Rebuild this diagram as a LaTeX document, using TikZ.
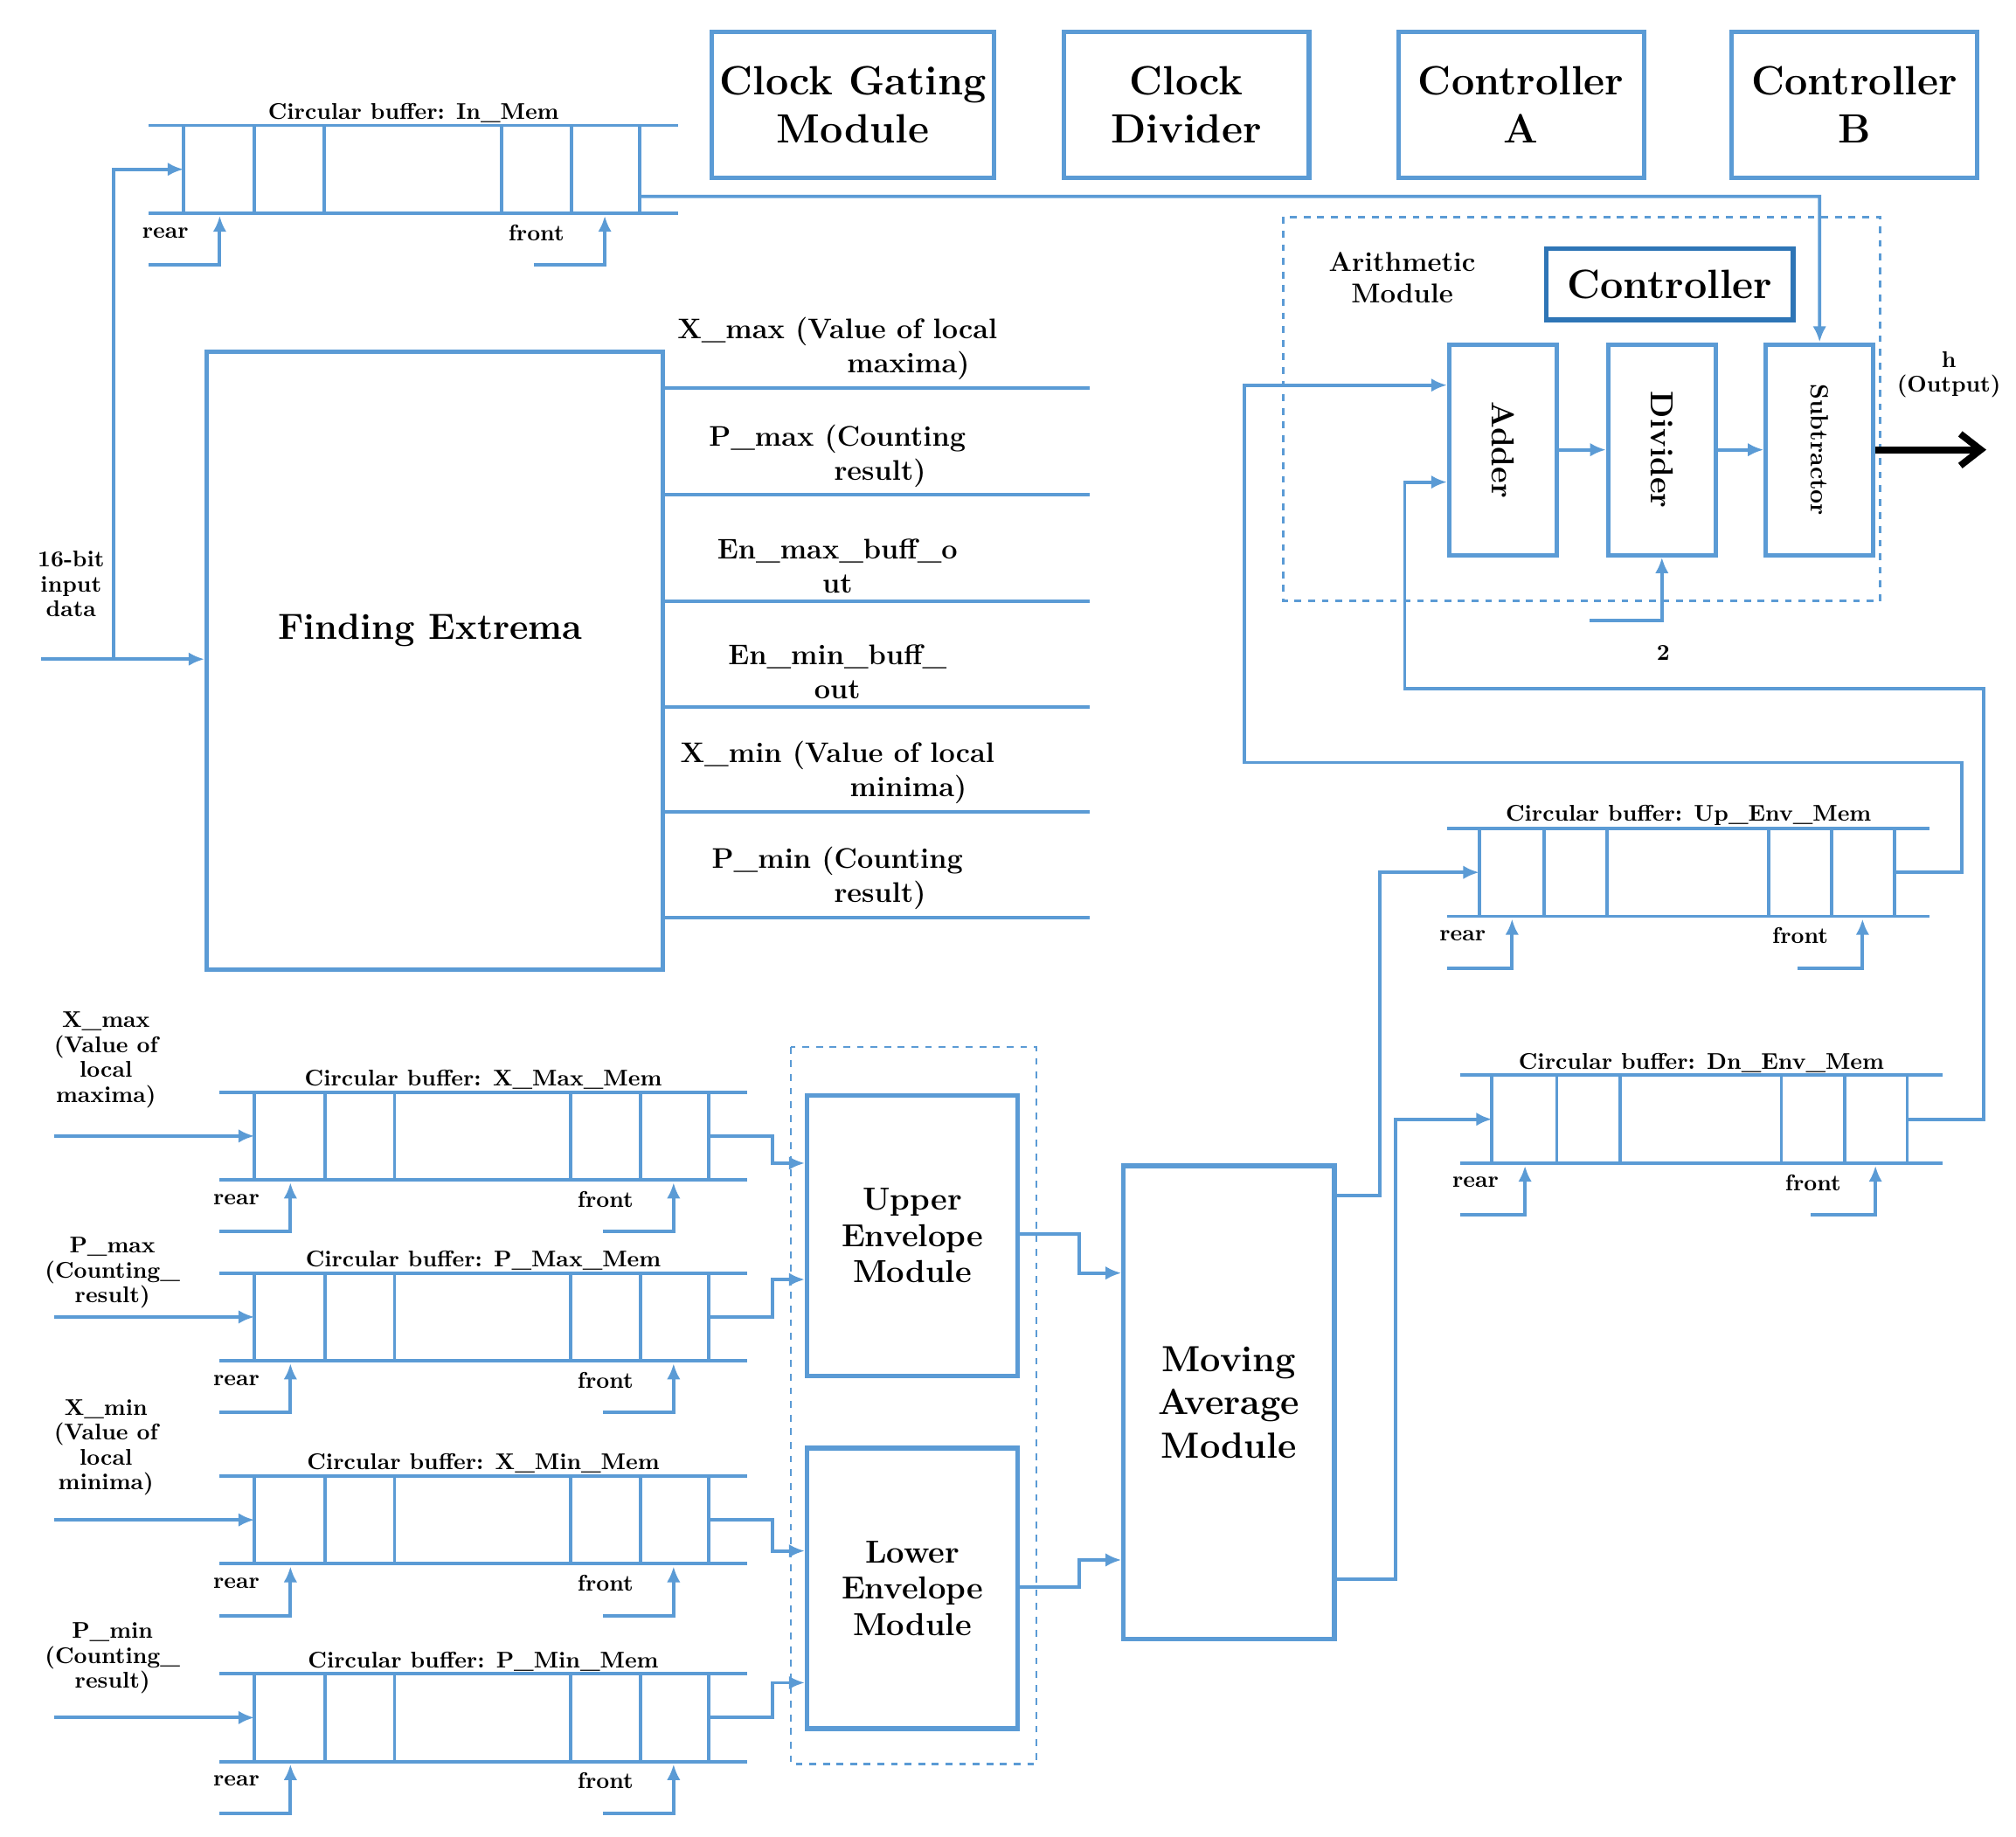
\documentclass[tikz,border=0pt]{standalone}
\usetikzlibrary{arrows.meta}
\definecolor{bblue}{RGB}{91,155,213}
\definecolor{dblue}{RGB}{46,117,182}
\tikzset{
  bl/.style={draw=bblue,line width=1.5pt},
  ar/.style={bl,-{Latex[length=7pt,width=6pt]}},
  box/.style={bl,line width=2pt},
  small/.style={font=\fontsize{10}{11}\selectfont\bfseries,inner sep=1pt,align=center},
  mid/.style={font=\fontsize{14}{16}\selectfont\bfseries,align=center},
  big/.style={font=\fontsize{18}{21}\selectfont\bfseries,align=center},
}
% name, x, y, xscale, title
\newcommand{\cbuf}[5]{%
\begin{scope}[shift={(#2,#3)},xscale=#4]
  \draw[bl] (0,0) -- (410,0) (0,68) -- (410,68);
  \foreach \v in {27,82,136,273,327,380} \draw[bl] (\v,0) -- (\v,68);
  \node[small,above] (#1-t) at (205,0) {#5};
  \coordinate (#1-in) at (27,34);
  \coordinate (#1-out) at (380,34);
  \node[small] (#1-r) at (13,83) {rear};
  \node[small] (#1-f) at (300,83) {front};
  \draw[ar] (0,108) -- (55,108) -- (55,70);
  \draw[ar] (298,108) -- (353,108) -- (353,70);
\end{scope}}
\begin{document}
\begin{tikzpicture}[x=0.02cm,y=-0.02cm]
\useasboundingbox (0,0) rectangle (1560,1421);

% top modules
\node[box,big,minimum width=190*0.02cm,minimum height=113*0.02cm] (cg) at (660,81) {Clock Gating\\Module};
\node[box,big,minimum width=190*0.02cm,minimum height=113*0.02cm] (cd) at (918,81) {Clock\\Divider};
\node[box,big,minimum width=190*0.02cm,minimum height=113*0.02cm] (ca) at (1177,81) {Controller\\A};
\node[box,big,minimum width=190*0.02cm,minimum height=113*0.02cm] (cb) at (1435,81) {Controller\\B};

% input buffer
\cbuf{inm}{115}{97}{1}{Circular buffer: In\_Mem}

% arithmetic module
\draw[bl,dashed,line width=1pt] (993,168) rectangle (1455,465);
\node[mid,font=\fontsize{12}{14}\selectfont\bfseries] (amt) at (1085,215) {Arithmetic\\Module};
\node[draw=dblue,line width=2pt,big,minimum width=191*0.02cm,minimum height=55*0.02cm] (ctl) at (1292,220) {Controller};
\node[box,minimum width=83*0.02cm,minimum height=163*0.02cm] (add) at (1163,348) {};
\node[mid,rotate=-90] at (add) {Adder};
\node[box,minimum width=83*0.02cm,minimum height=163*0.02cm] (div) at (1286,348) {};
\node[mid,rotate=-90] at (div) {Divider};
\node[box,minimum width=83*0.02cm,minimum height=163*0.02cm] (sub) at (1408,348) {};
\node[small,font=\fontsize{11}{12}\selectfont\bfseries,rotate=-90] at (sub) {Subtractor};
\draw[ar] (add.east) -- (div.west);
\draw[ar] (div.east) -- (sub.west);
\coordinate (hout) at (1537,348);
\draw[line width=3pt,-{Straight Barb[length=9pt,width=14pt]}] (sub.east) -- (hout);
\node[small] (hl) at (1508,290) {h\\(Output)};
\coordinate (two) at (1230,480);
\draw[ar] (two) -- (1286,480) -- (div.south);
\node[small] (twol) at (1287,505) {2};
\draw[ar] ([yshift=-0.42cm]inm-out) -- (sub.north |- 0,152) -- (sub.north);

% finding extrema
\node[box,minimum width=353*0.02cm,minimum height=478*0.02cm] (fe) at (336.5,511) {};
\node[mid,font=\fontsize{16}{18}\selectfont\bfseries] (fet) at (333,488) {Finding Extrema};
\foreach \yy/\txt in {300/{X\_max (Value of local\\\hspace*{5em}maxima)},
  383/{P\_max (Counting\\\hspace*{3em}result)},
  465/{En\_max\_buff\_o\\ut},
  547/{En\_min\_buff\_\\out},
  628/{X\_min (Value of local\\\hspace*{5em}minima)},
  710/{P\_min (Counting\\\hspace*{3em}result)}} {
  \draw[bl] (513,\yy) -- (843,\yy);
  \node[mid,font=\fontsize{12.5}{15}\selectfont\bfseries,above] at (648,\yy) {\txt};
}

% input data
\node[small] (inl) at (55,452) {16-bit\\input\\data};
\coordinate (ins) at (32,510);
\draw[ar] (ins) -- (fe.west |- ins);
\draw[ar] (88,510) -- (88,131) -- (inm-in);

% lower buffers
\cbuf{xmax}{170}{845}{0.995}{Circular buffer: X\_Max\_Mem}
\cbuf{pmax}{170}{985}{0.995}{Circular buffer: P\_Max\_Mem}
\cbuf{xmin}{170}{1142}{0.995}{Circular buffer: X\_Min\_Mem}
\cbuf{pmin}{170}{1295}{0.995}{Circular buffer: P\_Min\_Mem}
\node[small] (l1) at (82,820) {X\_max\\(Value of\\local\\maxima)};
\node[small] (l2) at (87,985) {P\_max\\(Counting\_\\result)};
\node[small] (l3) at (82,1120) {X\_min\\(Value of\\local\\minima)};
\node[small] (l4) at (87,1283) {P\_min\\(Counting\_\\result)};
\foreach \b in {xmax,pmax,xmin,pmin} {
  \coordinate (\b-src) at ([xshift=-155*0.02cm]\b-in);
  \draw[ar] (\b-src) -- (\b-in);
}

% envelope modules
\draw[bl,dashed,line width=1pt] (612,810) rectangle (802,1365);
\node[box,mid,minimum width=163*0.02cm,minimum height=217*0.02cm] (up) at (706,956) {Upper\\Envelope\\Module};
\node[box,mid,minimum width=163*0.02cm,minimum height=217*0.02cm] (lo) at (706,1229) {Lower\\Envelope\\Module};
\draw[ar] (xmax-out) -| (598,900) -- (up.west |- 0,900);
\draw[ar] (pmax-out) -| (598,990) -- (up.west |- 0,990);
\draw[ar] (xmin-out) -| (598,1200) -- (lo.west |- 0,1200);
\draw[ar] (pmin-out) -| (598,1302) -- (lo.west |- 0,1302);

% moving average
\node[box,mid,font=\fontsize{16}{19}\selectfont\bfseries,minimum width=163*0.02cm,minimum height=366*0.02cm] (ma) at (951,1085) {Moving\\Average\\Module};
\draw[ar] (up.east |- 0,955) -- (835,955) -- (835,985) -- (ma.west |- 0,985);
\draw[ar] (lo.east |- 0,1228) -- (835,1228) -- (835,1207) -- (ma.west |- 0,1207);

% envelope buffers
\cbuf{upe}{1120}{641}{0.91}{Circular buffer: Up\_Env\_Mem}
\cbuf{dne}{1130}{832}{0.91}{Circular buffer: Dn\_Env\_Mem}
\draw[ar] (ma.east |- 0,925) -- (1068,925) |- (upe-in);
\draw[ar] (ma.east |- 0,1222) -- (1080,1222) |- (dne-in);

% feedback into adder
\draw[ar] (upe-out) -| (1518,590) -- (963,590) -- (963,298) -- (add.west |- 0,298);
\draw[ar] (dne-out) -| (1535,533) -- (1087,533) -- (1087,373) -- (add.west |- 0,373);
\end{tikzpicture}
\end{document}
